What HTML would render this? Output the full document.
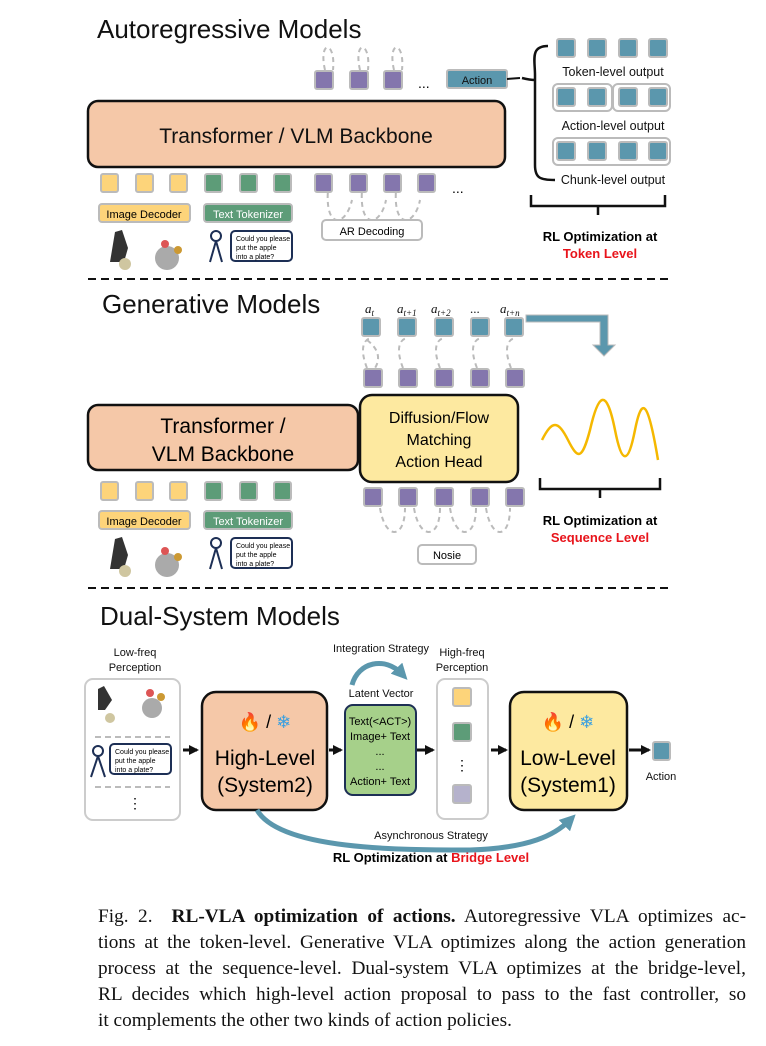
<!DOCTYPE html>
<html><head><meta charset="utf-8"><style>
body{margin:0;background:#fff;width:766px;height:1046px;overflow:hidden;position:relative;font-family:"Liberation Sans",sans-serif}
.cap{position:absolute;left:98px;top:904px;width:648px;font-family:"Liberation Serif",serif;font-size:19.3px;line-height:26px;color:#111}
.cap div{text-align:justify;text-align-last:justify;height:26px;white-space:nowrap}
.cap div.l{text-align-last:left}
</style></head><body>
<svg width="766" height="890" style="position:absolute;left:0;top:0" font-family="Liberation Sans, sans-serif">
<defs>
<marker id="ah" markerUnits="userSpaceOnUse" markerWidth="10" markerHeight="10" refX="8" refY="5" orient="auto"><path d="M0,0 L10,5 L0,10z" fill="#111"/></marker>
<marker id="ab" markerUnits="userSpaceOnUse" markerWidth="16" markerHeight="16" refX="8" refY="8" orient="auto"><path d="M0,0 L16,8 L0,16z" fill="#5b97ad"/></marker>
</defs>
<g fill="#111">
<text x="97" y="38" font-size="26">Autoregressive Models</text>
<text x="102" y="313" font-size="26">Generative Models</text>
<text x="100" y="625" font-size="26">Dual-System Models</text>
</g>
<g fill="none" stroke="#bbb" stroke-width="2" stroke-dasharray="5,4">
<path d="M325,70 C318,40 336,40 333,70"/><path d="M360,70 C353,40 371,40 368,70"/><path d="M394,70 C387,40 405,40 402,70"/>
<path d="M330,175 C320,230 345,230 352,200"/><path d="M364,175 C354,230 380,230 386,200"/><path d="M398,175 C388,230 414,230 420,200"/>
</g>
<g stroke="#bbb" stroke-width="2">
<rect x="315" y="71" width="18" height="18" rx="2" fill="#8476ad"/><rect x="350" y="71" width="18" height="18" rx="2" fill="#8476ad"/><rect x="384" y="71" width="18" height="18" rx="2" fill="#8476ad"/>
<rect x="447" y="70" width="60" height="18" rx="2" fill="#5b97ad"/>
</g>
<text x="418" y="88" font-size="14">...</text>
<text x="477" y="84" font-size="11" text-anchor="middle" fill="#111">Action</text>
<path d="M507,79 L520,78" stroke="#111" stroke-width="2"/>
<rect x="88" y="101" width="417" height="66" rx="10" fill="#f5c8a8" stroke="#111" stroke-width="2.5"/>
<text x="296" y="143" font-size="21" text-anchor="middle" fill="#111">Transformer / VLM Backbone</text>
<g stroke="#bbb" stroke-width="2">
<rect x="101" y="174" width="17" height="18" rx="2" fill="#fdd47a"/><rect x="136" y="174" width="17" height="18" rx="2" fill="#fdd47a"/><rect x="170" y="174" width="17" height="18" rx="2" fill="#fdd47a"/>
<rect x="205" y="174" width="17" height="18" rx="2" fill="#5d9c78"/><rect x="240" y="174" width="17" height="18" rx="2" fill="#5d9c78"/><rect x="274" y="174" width="17" height="18" rx="2" fill="#5d9c78"/>
<rect x="315" y="174" width="17" height="18" rx="2" fill="#8476ad"/><rect x="350" y="174" width="17" height="18" rx="2" fill="#8476ad"/><rect x="384" y="174" width="17" height="18" rx="2" fill="#8476ad"/><rect x="418" y="174" width="17" height="18" rx="2" fill="#8476ad"/>
<rect x="99" y="204" width="91" height="18" rx="3" fill="#fdd47a"/><rect x="204" y="204" width="88" height="18" rx="3" fill="#5d9c78"/>
<rect x="322" y="220" width="100" height="20" rx="4" fill="#fff"/>
</g>
<text x="452" y="193" font-size="14">...</text>
<text x="144" y="218" font-size="11" text-anchor="middle">Image Decoder</text>
<text x="248" y="218" font-size="11" text-anchor="middle" fill="#fff">Text Tokenizer</text>
<text x="372" y="235" font-size="11" text-anchor="middle">AR Decoding</text>
<g id="icons">
<path d="M110,262 L115,232 L122,230 L128,248 L124,262z" fill="#333"/><circle cx="125" cy="264" r="6" fill="#cfc6a0"/>
<circle cx="167" cy="258" r="12" fill="#aaa"/><circle cx="165" cy="244" r="4" fill="#d55"/><circle cx="178" cy="250" r="4" fill="#c93"/>
<circle cx="216" cy="236" r="5" fill="none" stroke="#1d2f55" stroke-width="2"/><path d="M216,241 L210,262 M216,241 L222,262" stroke="#1d2f55" stroke-width="2"/>
<rect x="231" y="231" width="61" height="30" rx="4" fill="#fff" stroke="#1d2f55" stroke-width="2"/>
<text x="236" y="241" font-size="7">Could you please</text><text x="236" y="250" font-size="7">put the apple</text><text x="236" y="259" font-size="7">into a plate?</text>
</g>
<path d="M548,46 C530,46 535,60 535,75 L535,80 C535,80 530,80 522,78 M535,80 L535,165 C535,178 540,180 555,180" fill="none" stroke="#111" stroke-width="2.5"/>
<g stroke="#bbb" stroke-width="2" fill="#5b97ad">
<rect x="557" y="39" width="18" height="18" rx="2"/><rect x="588" y="39" width="18" height="18" rx="2"/><rect x="619" y="39" width="18" height="18" rx="2"/><rect x="649" y="39" width="18" height="18" rx="2"/>
<rect x="553" y="84" width="59" height="27" rx="5" fill="#fff"/><rect x="613" y="84" width="57" height="27" rx="5" fill="#fff"/>
<rect x="557" y="88" width="18" height="18" rx="2"/><rect x="588" y="88" width="18" height="18" rx="2"/><rect x="619" y="88" width="18" height="18" rx="2"/><rect x="649" y="88" width="18" height="18" rx="2"/>
<rect x="553" y="138" width="117" height="27" rx="5" fill="#fff"/>
<rect x="557" y="142" width="18" height="18" rx="2"/><rect x="588" y="142" width="18" height="18" rx="2"/><rect x="619" y="142" width="18" height="18" rx="2"/><rect x="649" y="142" width="18" height="18" rx="2"/>
</g>
<g font-size="12.5" text-anchor="middle" fill="#111">
<text x="613" y="76">Token-level output</text><text x="613" y="130">Action-level output</text><text x="613" y="184">Chunk-level output</text>
</g>
<path d="M531,195 L531,206 L665,206 L665,195 M598,206 L598,215" fill="none" stroke="#111" stroke-width="2.5"/>
<text x="600" y="241" font-size="13" font-weight="bold" text-anchor="middle">RL Optimization at</text>
<text x="600" y="258" font-size="13" font-weight="bold" text-anchor="middle" fill="#e8141b">Token Level</text>
<path d="M88,279 L670,279" stroke="#111" stroke-width="2" stroke-dasharray="8,5"/>
<g font-family="Liberation Serif, serif" font-style="italic" font-size="13" fill="#111">
<text x="365" y="313">a<tspan font-size="9" dy="3">t</tspan></text><text x="397" y="313">a<tspan font-size="9" dy="3">t+1</tspan></text><text x="431" y="313">a<tspan font-size="9" dy="3">t+2</tspan></text><text x="470" y="313" font-style="normal">...</text><text x="500" y="313">a<tspan font-size="9" dy="3">t+n</tspan></text>
</g>
<g fill="none" stroke="#bbb" stroke-width="2" stroke-dasharray="5,4">
<path d="M367,368 C358,345 366,338 372,338"/><path d="M403,368 C394,345 402,338 408,338"/><path d="M440,368 C431,345 439,338 445,338"/><path d="M477,368 C468,345 476,338 482,338"/><path d="M511,368 C502,345 510,338 516,338"/>
<path d="M367,340 C380,350 380,360 375,368"/>
<path d="M380,508 C385,540 405,540 405,508"/><path d="M414,508 C419,540 440,540 440,508"/><path d="M450,508 C455,540 476,540 476,508"/><path d="M486,508 C491,540 510,540 510,508"/>
</g>
<g stroke="#bbb" stroke-width="2">
<rect x="362" y="318" width="18" height="18" rx="2" fill="#5b97ad"/><rect x="398" y="318" width="18" height="18" rx="2" fill="#5b97ad"/><rect x="435" y="318" width="18" height="18" rx="2" fill="#5b97ad"/><rect x="471" y="318" width="18" height="18" rx="2" fill="#5b97ad"/><rect x="505" y="318" width="18" height="18" rx="2" fill="#5b97ad"/>
<rect x="364" y="369" width="18" height="18" rx="2" fill="#8476ad"/><rect x="399" y="369" width="18" height="18" rx="2" fill="#8476ad"/><rect x="435" y="369" width="18" height="18" rx="2" fill="#8476ad"/><rect x="471" y="369" width="18" height="18" rx="2" fill="#8476ad"/><rect x="506" y="369" width="18" height="18" rx="2" fill="#8476ad"/>
<rect x="364" y="488" width="18" height="18" rx="2" fill="#8476ad"/><rect x="399" y="488" width="18" height="18" rx="2" fill="#8476ad"/><rect x="435" y="488" width="18" height="18" rx="2" fill="#8476ad"/><rect x="471" y="488" width="18" height="18" rx="2" fill="#8476ad"/><rect x="506" y="488" width="18" height="18" rx="2" fill="#8476ad"/>
<rect x="418" y="545" width="58" height="19" rx="4" fill="#fff"/>
</g>
<text x="447" y="559" font-size="11" text-anchor="middle">Nosie</text>
<path d="M526,322 L600,322 L600,345 L593,345 L604,356 L615,345 L608,345 L608,315 L526,315z" fill="#5b97ad" stroke="#bbb"/>
<rect x="88" y="405" width="270" height="65" rx="10" fill="#f5c8a8" stroke="#111" stroke-width="2.5"/>
<text x="223" y="433" font-size="21" text-anchor="middle">Transformer /</text>
<text x="223" y="461" font-size="21" text-anchor="middle">VLM Backbone</text>
<rect x="360" y="395" width="158" height="87" rx="12" fill="#fde9a0" stroke="#111" stroke-width="2.5"/>
<g font-size="16" text-anchor="middle"><text x="439" y="423">Diffusion/Flow</text><text x="439" y="445">Matching</text><text x="439" y="467">Action Head</text></g>
<g stroke="#bbb" stroke-width="2">
<rect x="101" y="482" width="17" height="18" rx="2" fill="#fdd47a"/><rect x="136" y="482" width="17" height="18" rx="2" fill="#fdd47a"/><rect x="170" y="482" width="17" height="18" rx="2" fill="#fdd47a"/>
<rect x="205" y="482" width="17" height="18" rx="2" fill="#5d9c78"/><rect x="240" y="482" width="17" height="18" rx="2" fill="#5d9c78"/><rect x="274" y="482" width="17" height="18" rx="2" fill="#5d9c78"/>
<rect x="99" y="511" width="91" height="18" rx="3" fill="#fdd47a"/><rect x="204" y="511" width="88" height="18" rx="3" fill="#5d9c78"/>
</g>
<text x="144" y="525" font-size="11" text-anchor="middle">Image Decoder</text>
<text x="248" y="525" font-size="11" text-anchor="middle" fill="#fff">Text Tokenizer</text>
<use href="#icons" transform="translate(0,307)"/>
<path d="M542,440 C552,420 558,420 568,440 C578,460 582,460 590,430 C598,395 606,385 615,430 C622,465 628,465 635,430 C642,395 648,400 658,460" fill="none" stroke="#f5b800" stroke-width="2.5"/>
<path d="M540,478 L540,489 L660,489 L660,478 M600,489 L600,498" fill="none" stroke="#111" stroke-width="2.5"/>
<text x="600" y="525" font-size="13" font-weight="bold" text-anchor="middle">RL Optimization at</text>
<text x="600" y="542" font-size="13" font-weight="bold" text-anchor="middle" fill="#e8141b">Sequence Level</text>
<path d="M88,588 L670,588" stroke="#111" stroke-width="2" stroke-dasharray="8,5"/>
<g font-size="11" text-anchor="middle" fill="#111">
<text x="135" y="656">Low-freq</text><text x="135" y="671">Perception</text>
<text x="462" y="656">High-freq</text><text x="462" y="671">Perception</text>
<text x="381" y="652">Integration Strategy</text>
<text x="381" y="697">Latent Vector</text>
<text x="661" y="780">Action</text>
<text x="431" y="839">Asynchronous Strategy</text>
</g>
<rect x="85" y="679" width="95" height="141" rx="8" fill="#fff" stroke="#ccc" stroke-width="2"/>
<path d="M98,689 L104,686 L112,700 L105,710 L98,710z" fill="#333"/><circle cx="110" cy="718" r="5" fill="#cfc6a0"/>
<circle cx="152" cy="708" r="10" fill="#aaa"/><circle cx="150" cy="693" r="4" fill="#d55"/><circle cx="161" cy="697" r="4" fill="#c93"/>
<path d="M95,737 L170,737 M95,787 L170,787" stroke="#bbb" stroke-width="2" stroke-dasharray="6,4"/>
<circle cx="98" cy="751" r="5" fill="none" stroke="#1d2f55" stroke-width="2"/><path d="M98,756 L91,777 M98,756 L105,777" stroke="#1d2f55" stroke-width="2"/>
<rect x="110" y="744" width="61" height="30" rx="4" fill="#fff" stroke="#1d2f55" stroke-width="2"/>
<text x="115" y="754" font-size="7">Could you please</text><text x="115" y="763" font-size="7">put the apple</text><text x="115" y="772" font-size="7">into a plate?</text>
<text x="135" y="808" font-size="14" text-anchor="middle">⋮</text>
<rect x="202" y="692" width="125" height="118" rx="14" fill="#f5c8a8" stroke="#111" stroke-width="2.5"/>
<text x="265" y="728" font-size="18" text-anchor="middle">🔥 / <tspan fill="#3aa0e0">❄</tspan></text>
<text x="265" y="765" font-size="21" text-anchor="middle">High-Level</text>
<text x="265" y="792" font-size="21" text-anchor="middle">(System2)</text>
<rect x="345" y="705" width="71" height="90" rx="8" fill="#a6d08a" stroke="#1d2f55" stroke-width="2"/>
<g font-size="11" text-anchor="middle"><text x="380" y="725">Text(&lt;ACT&gt;)</text><text x="380" y="740">Image+ Text</text><text x="380" y="755">...</text><text x="380" y="770">...</text><text x="380" y="785">Action+ Text</text></g>
<path d="M352,685 C358,662 385,656 402,674" fill="none" stroke="#5b97ad" stroke-width="5" marker-end="url(#ab)"/>
<rect x="437" y="679" width="51" height="140" rx="8" fill="#fff" stroke="#ccc" stroke-width="2"/>
<g stroke="#bbb" stroke-width="2"><rect x="453" y="688" width="18" height="18" rx="2" fill="#fdd47a"/><rect x="453" y="723" width="18" height="18" rx="2" fill="#5d9c78"/><rect x="453" y="785" width="18" height="18" rx="2" fill="#b5b2cc"/></g>
<text x="462" y="770" font-size="14" text-anchor="middle">⋮</text>
<rect x="510" y="692" width="117" height="118" rx="14" fill="#fde9a0" stroke="#111" stroke-width="2.5"/>
<text x="568" y="728" font-size="18" text-anchor="middle">🔥 / <tspan fill="#3aa0e0">❄</tspan></text>
<text x="568" y="765" font-size="21" text-anchor="middle">Low-Level</text>
<text x="568" y="792" font-size="21" text-anchor="middle">(System1)</text>
<rect x="653" y="742" width="17" height="18" rx="2" fill="#5b97ad" stroke="#bbb" stroke-width="2"/>
<g stroke="#111" stroke-width="3" marker-end="url(#ah)">
<path d="M183,750 L197,750"/><path d="M329,750 L341,750"/><path d="M417,750 L433,750"/><path d="M491,750 L506,750"/><path d="M629,750 L649,750"/>
</g>
<path d="M257,810 C280,850 400,850 470,850 C530,848 555,835 570,820" fill="none" stroke="#5b97ad" stroke-width="5" marker-end="url(#ab)"/>
<text x="431" y="862" font-size="13" font-weight="bold" text-anchor="middle">RL Optimization at <tspan fill="#e8141b">Bridge Level</tspan></text>
</svg>
<div class="cap">
<div>Fig. 2.&nbsp; <b>RL-VLA optimization of actions.</b> Autoregressive VLA optimizes ac-</div>
<div>tions at the token-level. Generative VLA optimizes along the action generation</div>
<div>process at the sequence-level. Dual-system VLA optimizes at the bridge-level,</div>
<div>RL decides which high-level action proposal to pass to the fast controller, so</div>
<div class="l">it complements the other two kinds of action policies.</div>
</div>
</body></html>
